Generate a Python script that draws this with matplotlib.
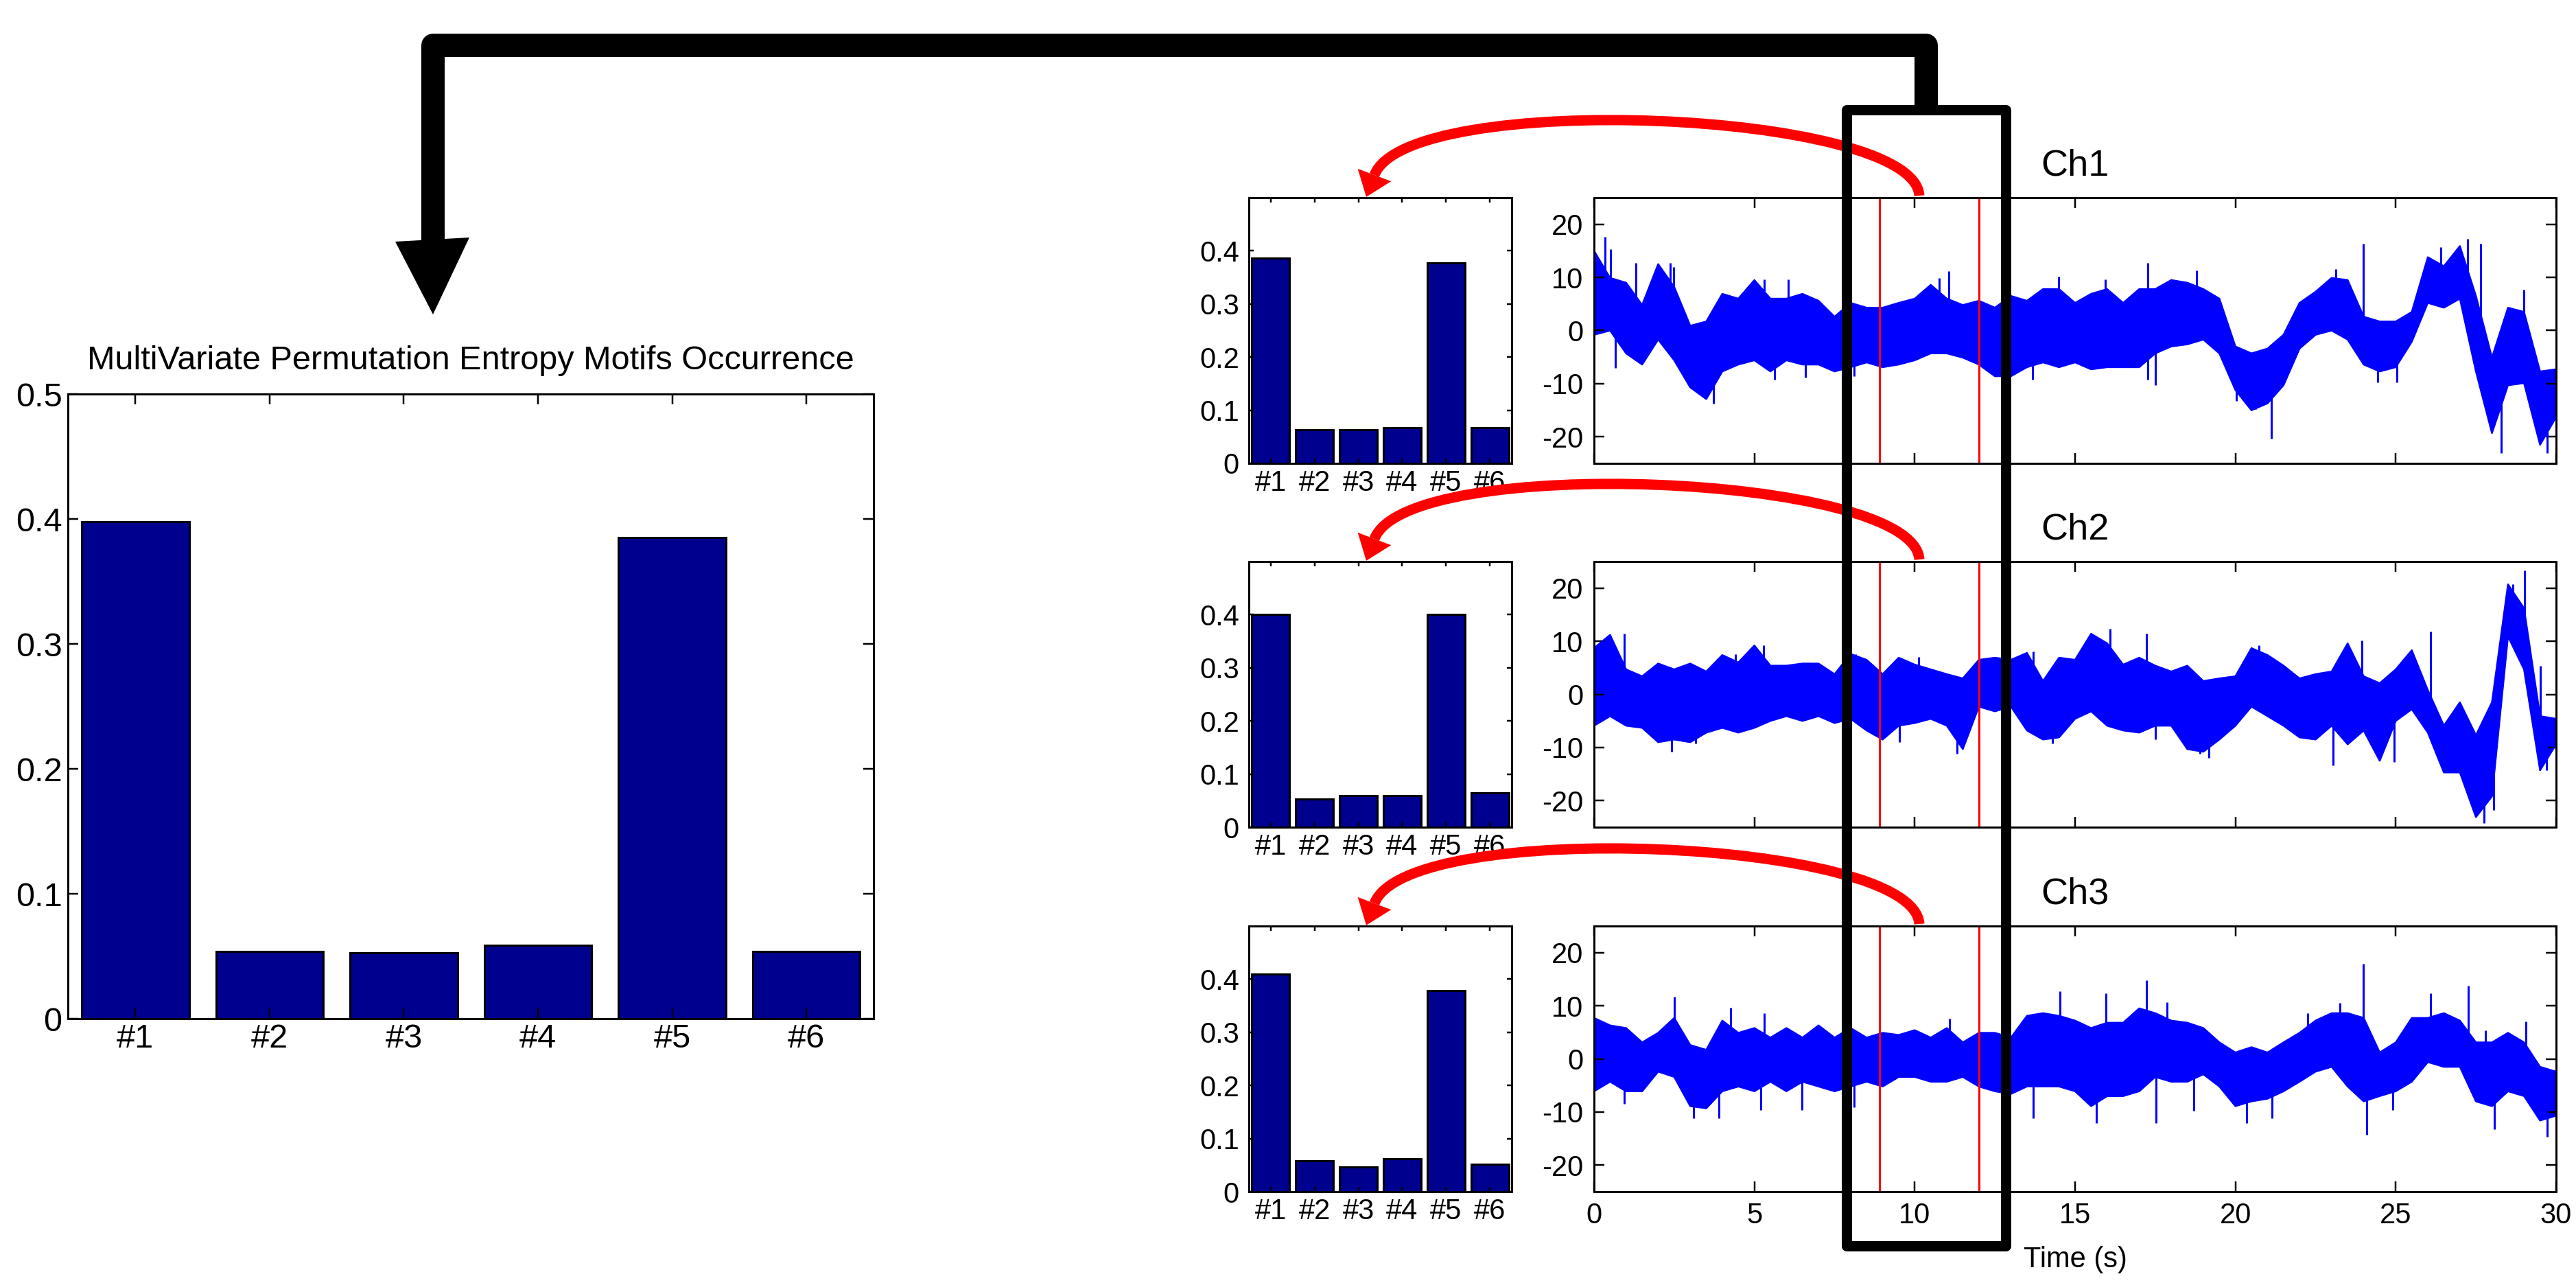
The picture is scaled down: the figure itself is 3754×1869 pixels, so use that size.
import numpy as np
import matplotlib
matplotlib.use("Agg")
import matplotlib.pyplot as plt
from matplotlib.patches import Polygon, Rectangle, PathPatch
from matplotlib.path import Path

plt.rcParams['font.family'] = ['Liberation Sans', 'DejaVu Sans']
plt.rcParams['axes.unicode_minus'] = False

# ---------------- data ----------------
motifs = ['#1', '#2', '#3', '#4', '#5', '#6']
mvpe_occurrence = [0.398, 0.054, 0.0525, 0.0586, 0.385, 0.054]
ch1_occurrence = [0.386, 0.063, 0.063, 0.0675, 0.377, 0.0675]
ch2_occurrence = [0.400, 0.053, 0.059, 0.059, 0.400, 0.064]
ch3_occurrence = [0.410, 0.058, 0.047, 0.0625, 0.379, 0.052]

channel_names = ['Ch1', 'Ch2', 'Ch3']
time_s = np.linspace(0, 30, 61)  # envelope read every 0.5 s

ch1_upper = [15.0, 9.9, 9.0, 4.8, 12.5, 8.2, 0.9, 1.7, 6.9, 6.0, 9.5, 6.0, 6.0, 6.9, 5.6, 2.6,
             5.2, 4.3, 4.3, 5.2, 6.0, 8.6, 6.0, 4.8, 5.6, 4.3, 6.5, 5.6, 7.8, 7.8, 5.2, 6.9,
             7.8, 5.2, 7.8, 7.8, 9.5, 9.0, 7.8, 6.0, -3.0, -4.3, -3.4, -0.8, 5.2, 7.3, 9.9,
             9.5, 2.6, 1.7, 1.7, 3.5, 13.8, 12.1, 15.9, 6.5, -5.1, 4.3, 3.5, -7.7, -7.3]
ch1_lower = [-0.8, 0.0, -4.3, -6.4, -1.7, -5.6, -10.7, -12.9, -7.7, -6.4, -5.6, -7.7, -5.6, -6.4,
             -6.4, -7.7, -6.9, -6.0, -6.9, -6.4, -5.6, -4.3, -4.3, -5.1, -6.4, -8.6, -8.6, -6.9,
             -6.0, -6.9, -6.0, -7.3, -6.9, -6.9, -6.9, -4.3, -3.0, -2.6, -1.7, -4.3, -11.2, -15.0,
             -13.7, -10.3, -3.4, -0.8, 0.0, -1.7, -6.4, -7.7, -6.9, -2.1, 5.2, 4.3, 6.0, -7.7,
             -19.3, -10.3, -9.9, -21.5, -16.3]
ch2_upper = [8.7, 11.2, 4.7, 3.4, 5.8, 4.7, 5.8, 4.3, 7.4, 6.0, 9.2, 5.4, 5.4, 5.8, 5.8, 3.8,
             7.6, 6.5, 3.8, 6.9, 5.6, 4.7, 3.8, 3.0, 6.5, 6.9, 6.5, 7.8, 2.5, 6.9, 6.5, 11.4,
             9.6, 5.6, 6.9, 5.4, 4.3, 5.4, 2.5, 3.0, 3.4, 8.7, 7.4, 5.4, 3.0, 3.8, 4.3, 9.6,
             3.4, 2.1, 4.7, 8.3, 0.8, -5.9, -1.5, -7.7, -1.5, 20.7, 16.2, -4.1, -4.6]
ch2_lower = [-5.9, -4.1, -5.9, -6.3, -9.0, -8.5, -9.0, -7.2, -6.3, -7.2, -6.3, -5.0, -4.1, -5.0,
             -4.1, -5.4, -4.6, -6.8, -8.5, -5.9, -5.4, -4.6, -5.9, -10.3, -2.3, -3.2, -2.3, -6.8,
             -8.5, -8.1, -4.6, -3.2, -5.9, -6.8, -7.2, -5.9, -5.9, -10.3, -10.8, -8.5, -5.9, -2.3,
             -4.1, -5.9, -8.1, -8.5, -5.9, -9.4, -6.8, -12.5, -5.0, -2.8, -7.2, -14.7, -14.7,
             -23.1, -19.2, 10.9, 4.7, -14.3, -9.4]
ch3_upper = [7.7, 6.3, 5.8, 3.1, 4.9, 7.7, 2.6, 1.7, 7.2, 4.9, 5.8, 4.0, 5.8, 4.0, 6.3, 4.0,
             5.8, 4.0, 4.9, 4.5, 5.4, 4.0, 5.8, 3.1, 4.9, 4.9, 4.0, 8.1, 8.6, 8.1, 7.2, 5.8,
             6.8, 6.8, 9.5, 8.6, 7.2, 6.8, 5.8, 3.1, 1.2, 2.2, 1.2, 3.1, 4.9, 7.2, 8.6, 8.6,
             7.7, 1.2, 3.1, 7.7, 7.7, 8.6, 7.2, 3.1, 3.1, 4.9, 3.1, -1.5, -2.4]
ch3_lower = [-6.1, -4.3, -6.1, -6.1, -2.4, -3.4, -8.9, -9.3, -6.1, -5.2, -6.1, -4.3, -6.1, -4.3,
             -5.2, -6.1, -5.2, -4.3, -5.2, -3.4, -3.4, -4.3, -4.3, -3.4, -5.2, -6.1, -6.6, -5.2,
             -5.2, -5.2, -6.1, -8.9, -7.0, -7.0, -6.1, -3.4, -4.3, -4.3, -2.9, -5.2, -8.9, -8.0,
             -7.5, -6.1, -4.3, -2.4, -1.5, -5.2, -8.0, -7.0, -6.1, -4.3, -0.6, -1.5, -1.5, -8.0,
             -8.9, -6.1, -7.0, -11.6, -10.7]

# isolated spikes: (time in s, peak value)
ch1_spike_t = [0.34, 0.51, 1.31, 2.38, 2.48, 5.31, 6.06, 10.77, 11.07, 14.48, 15.95, 17.26,
               18.78, 23.13, 23.98, 26.4, 27.24, 27.64, 29.0,
               0.0, 0.66, 3.13, 3.73, 5.63, 6.6, 8.1, 12.76, 13.68, 17.26, 17.5, 20.02, 20.62,
               21.11, 24.43, 25.03, 27.75, 28.29, 29.72]
ch1_spike_v = [17.7, 15.3, 12.7, 12.7, 12.0, 9.6, 9.6, 9.9, 11.2, 10.1, 9.6, 12.7,
               11.3, 11.6, 16.3, 15.7, 17.3, 16.4, 7.7,
               -10.3, -7.1, -10.7, -13.7, -9.2, -8.8, -8.6, -9.7, -9.2, -9.2, -10.3, -13.3, -14.8,
               -20.4, -9.7, -9.7, -6.4, -23.0, -23.0]
ch2_spike_t = [0.94, 4.41, 5.29, 8.16, 10.12, 12.5, 13.69, 16.09, 17.23, 20.74, 23.95, 26.09,
               28.66, 29.02, 29.5,
               0.0, 2.42, 3.17, 9.52, 11.32, 14.29, 17.5, 18.9, 19.18, 23.05, 24.95, 26.85,
               27.76, 28.06, 29.7]
ch2_spike_v = [11.4, 7.6, 9.2, 7.6, 7.0, 7.0, 8.1, 12.3, 11.4, 9.2, 10.1, 11.8,
               20.7, 23.3, 5.4,
               -13.4, -10.8, -9.2, -9.0, -11.2, -9.2, -8.5, -11.2, -11.9, -13.4, -12.7, -14.7,
               -24.2, -21.8, -14.3]
ch3_spike_t = [2.5, 4.25, 5.31, 11.08, 14.53, 15.97, 17.23, 17.86, 22.26, 23.25, 23.99, 26.09,
               27.27, 27.8, 29.06,
               0.94, 3.11, 3.89, 5.21, 6.49, 8.12, 13.69, 15.67, 17.52, 18.7, 20.36, 21.14,
               24.09, 24.91, 28.08, 29.72]
ch3_spike_v = [11.7, 9.6, 8.6, 7.5, 12.7, 12.3, 14.8, 10.6, 8.6, 10.5, 17.9, 12.3,
               13.8, 5.4, 7.0,
               -8.4, -11.2, -11.2, -9.6, -9.6, -9.1, -11.2, -12.1, -12.1, -9.8, -12.1, -11.2,
               -14.3, -9.6, -13.2, -14.6]

window_start_s = 8.9
window_end_s = 12.0

small_occ = [ch1_occurrence, ch2_occurrence, ch3_occurrence]
upper_env = [ch1_upper, ch2_upper, ch3_upper]
lower_env = [ch1_lower, ch2_lower, ch3_lower]
spike_t = [ch1_spike_t, ch2_spike_t, ch3_spike_t]
spike_v = [ch1_spike_v, ch2_spike_v, ch3_spike_v]

# ---------------- figure ----------------
W, H = 3755, 1869
DPI = 100
fig = plt.figure(figsize=(W / DPI, H / DPI), dpi=DPI)
fig.patch.set_facecolor('white')
PX = 72.0 / DPI  # points per pixel

BAR_COLOR = '#00008f'


def add_ax(left, top, right, bottom):
    return fig.add_axes([left / W, 1 - bottom / H, (right - left) / W, (bottom - top) / H])


def style(ax, ticklen, labelsize, pad):
    for s in ax.spines.values():
        s.set_linewidth(3 * PX)
    ax.tick_params(direction='in', top=True, right=True, length=ticklen * PX,
                   width=2.5 * PX, labelsize=labelsize, pad=pad * PX)


# big bar chart
axb = add_ax(99.5, 574, 1273, 1484)
xpos = np.arange(1, len(motifs) + 1)
axb.bar(xpos, mvpe_occurrence, width=0.8, color=BAR_COLOR, edgecolor='black', linewidth=3 * PX)
axb.set_xlim(0.5, 6.5)
axb.set_ylim(0, 0.5)
axb.set_xticks(xpos)
axb.set_xticklabels(motifs)
axb.set_yticks([0, 0.1, 0.2, 0.3, 0.4, 0.5])
axb.set_yticklabels(['0', '0.1', '0.2', '0.3', '0.4', '0.5'])
style(axb, 15, 35, 9)
axb.tick_params(axis='x', pad=7 * PX)
axb.set_title('MultiVariate Permutation Entropy Motifs Occurrence', fontsize=35, pad=36 * PX)

row_tops = [288, 818, 1349]
row_h = 387
for i in range(3):
    top = row_tops[i]
    bot = top + row_h
    # small bar chart
    axs = add_ax(1820, top, 2203, bot)
    axs.bar(xpos, small_occ[i], width=0.86, color=BAR_COLOR, edgecolor='black', linewidth=3 * PX)
    axs.set_xlim(0.5, 6.5)
    axs.set_ylim(0, 0.5)
    axs.set_xticks(xpos)
    axs.set_xticklabels(motifs)
    axs.set_yticks([0, 0.1, 0.2, 0.3, 0.4])
    axs.set_yticklabels(['0', '0.1', '0.2', '0.3', '0.4'])
    style(axs, 7, 30, 14)
    axs.tick_params(axis='x', pad=9 * PX)

    # signal
    axg = add_ax(2323, top, 3725, bot)
    up = np.array(upper_env[i])
    lo = np.array(lower_env[i])
    axg.fill_between(time_s, lo, up, color='blue', linewidth=0)
    axg.plot(time_s, up, color='blue', lw=2.5 * PX)
    axg.plot(time_s, lo, color='blue', lw=2.5 * PX)
    st = np.array(spike_t[i])
    sv = np.array(spike_v[i])
    base = np.interp(st, time_s, (up + lo) / 2)
    axg.vlines(st, base, sv, color='blue', lw=3 * PX)
    axg.axvline(window_start_s, color='red', lw=3 * PX)
    axg.axvline(window_end_s, color='red', lw=3 * PX)
    axg.set_xlim(0, 30)
    axg.set_ylim(-25, 25)
    axg.set_xticks([0, 5, 10, 15, 20, 25, 30])
    axg.set_yticks([-20, -10, 0, 10, 20])
    axg.set_yticklabels(['-20', '-10', '0', '10', '20'])
    style(axg, 15, 30, 16)
    axg.tick_params(axis='x', pad=15 * PX)
    axg.set_title(channel_names[i], fontsize=39, pad=33 * PX)
    if i < 2:
        axg.set_xticklabels([])
    else:
        axg.set_xticklabels(['0', '5', '10', '15', '20', '25', '30'])
        axg.set_xlabel('Time (s)', fontsize=30)
        axg.xaxis.set_label_coords(0.5, -(1835 - bot) / row_h)
        axg.xaxis.label.set_va('center')

# ---------------- annotation overlay (pixel coordinates) ----------------
ov = fig.add_axes([0, 0, 1, 1])
ov.set_xlim(0, W)
ov.set_ylim(H, 0)
ov.axis('off')
ov.patch.set_alpha(0)
ov.set_zorder(10)

# red curved arrows (drawn first, black frame on top)
for top in row_tops:
    verts = [(2797, top - 3), (2790, top - 128), (2050, top - 158), (2003, top - 33)]
    codes = [Path.MOVETO, Path.CURVE4, Path.CURVE4, Path.CURVE4]
    ov.add_patch(PathPatch(Path(verts, codes), facecolor='none', edgecolor='#ff0000',
                           lw=15 * PX, capstyle='butt'))
    p2 = np.array(verts[2], float)
    p3 = np.array(verts[3], float)
    u = (p3 - p2) / np.linalg.norm(p3 - p2)
    n = np.array([-u[1], u[0]])
    tip = p3 + 34 * u
    head = [p3 + 26 * n, p3 - 26 * n, tip]
    ov.add_patch(Polygon(head, closed=True, facecolor='#ff0000', edgecolor='none'))

# black selection window
ov.add_patch(Rectangle((2691, 160), 2923 - 2691, 1815 - 160, fill=False, edgecolor='black',
                       lw=15 * PX, joinstyle='round'))
# black connector to the big chart
ov.plot([2807, 2807, 631, 631], [160, 66, 66, 356], color='black', lw=34 * PX,
        solid_joinstyle='round', solid_capstyle='butt')
ov.add_patch(Polygon([(576, 352), (684, 346), (631, 458)], closed=True,
                     facecolor='black', edgecolor='none'))

fig.savefig('out.png', dpi=DPI, facecolor='white')
